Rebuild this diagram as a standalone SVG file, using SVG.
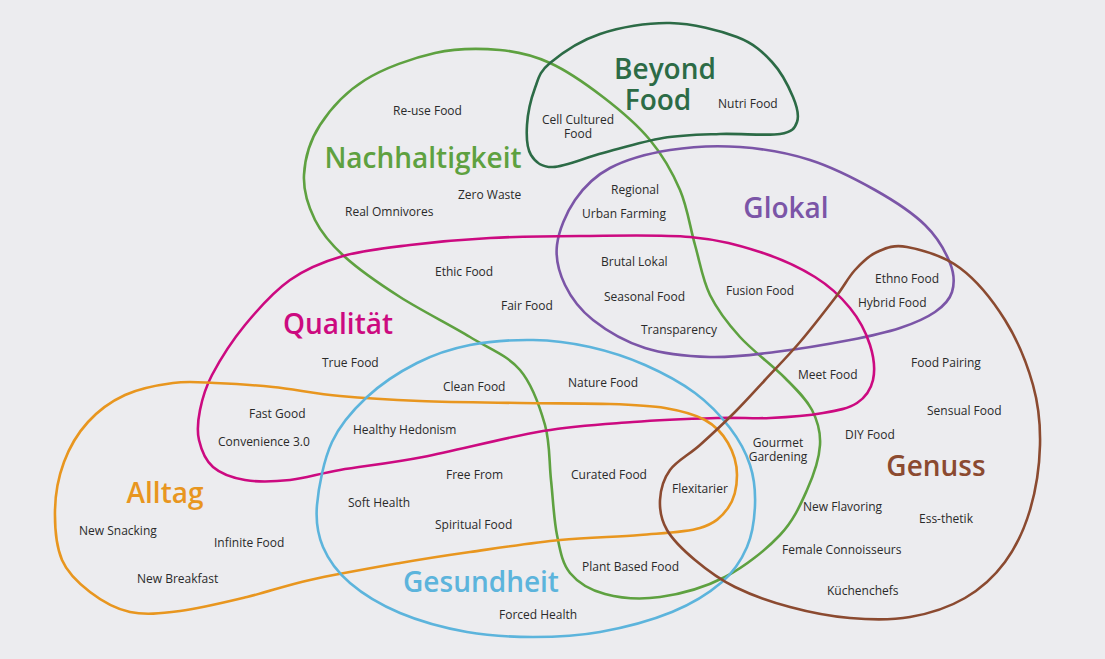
<svg xmlns="http://www.w3.org/2000/svg" width="1105" height="659" viewBox="0 0 1105 659">
<style>
.loop{fill:none;stroke-width:2.6;stroke-linejoin:round}
.title{font-family:"Open Sans","Liberation Sans",sans-serif;font-weight:600;font-size:28px}
.lbl{font-family:"Open Sans","Liberation Sans",sans-serif;font-size:12px;fill:#2a2a2a}
</style>
<rect width="1105" height="659" fill="#ececef"/>
<g id="shapes">
<g id="nachhaltigkeit">
<path class="loop" stroke="#5ea140" d="M550,63 C567.2,70.8 586.3,84.2 603,97 S637.2,124.5 650,140 S672.5,172.5 680,190 S690,227.5 695,245 S702.5,279.7 710,295 S727.5,323.2 740,337 S773,365.8 785,378 S806.2,398.8 812,410 S820.8,431.7 820,445 S813.7,475 807,490 S793.7,520.5 780,535 S745,566.7 725,577 S680,594.2 660,597 S620,598 605,594 S578,582.8 570,573 S560.2,550.5 557,535 S553,498.3 551,480 S550.2,443.3 545,425 S532.5,384.7 520,370 S490,349.2 470,337 S420.8,310.3 400,297 S359.2,269.8 345,257 S321.8,233.7 315,220 S303.2,190.8 304,175 S309.8,140.8 320,125 S345.8,92 365,80 S412.5,58 435,53 S480.8,48.3 500,50 S532.8,55.2 550,63 Z"/>
</g>
<g id="beyond-food">
<path class="loop" stroke="#2c6b46" d="M550,63 C560.8,54 580,40.7 600,34 S647.2,22.5 670,23 S720,30.5 737,37 S762.7,52 772,62 S788.8,87 793,97 S799.2,115.8 797,122 S792.8,132 780,134 S739.5,133.3 720,134 S682.5,134.8 663,138 S621.3,148.2 603,153 S565,166.7 553,167 S535.3,162 531,155 S526.3,136.2 527,125 S531.2,98.3 535,88 S539.2,72 550,63 Z"/>
</g>
<g id="glokal">
<path class="loop" stroke="#7b55a7" d="M557,245 C558.7,230.8 566.2,212.8 575,200 S594.2,176.3 610,168 S648.3,153.5 670,150 S716.7,145.3 740,147 S787.5,152.8 810,160 S855.8,179.2 875,190 S912.5,212.8 925,225 S945.5,251.8 950,263 S954.5,283.8 952,292 S943.7,306 935,312 S914.2,323.3 900,328 S870.8,336 850,340 S798.3,349.2 775,352 S731.7,357.7 710,357 S664.5,354.2 645,348 S606.3,330.5 593,320 S571,297.5 565,285 S555.3,259.2 557,245 Z"/>
</g>
<g id="qualitaet">
<path class="loop" stroke="#cc0a80" d="M290,280 C306.3,268.5 323,261.8 343,256 S385.5,248 410,245 S461.7,239.5 490,238 S546.7,236.2 580,236 S660,234.3 690,237 S739.2,245.3 760,252 S800,267.7 815,277 S840.8,296.7 850,308 S866.2,333 870,345 S875.2,370.3 873,380 S865.3,397.5 857,403 S837.5,410.5 823,413 S787.7,417.2 770,418 S739.8,417.3 717,418 S662,419.8 633,422 S578,425.2 543,431 S456.8,450.5 423,457 S362.2,466.2 340,470 S305.8,478.3 290,480 S257.8,482.2 245,480 S220.7,473.7 213,467 S201.2,449.5 199,440 S197.8,420.8 200,410 S204.5,389.2 212,375 S232,340.8 245,325 S273.7,291.5 290,280 Z"/>
</g>
<g id="alltag">
<path class="loop" stroke="#e8961f" d="M173,383 C188,381 198.3,382.3 215,383 S252.2,384.8 273,387 S315.5,393.7 340,396 S390,399.8 420,401 S488.3,402.5 520,403 S585.8,403.2 610,404 S649.2,405.3 665,408 S694.5,414.2 705,420 S722.7,433.8 728,443 S737,464.2 737,475 S734.2,499.2 728,508 S714.7,523.5 700,528 S663.3,533 640,535 S588.3,537.2 560,540 S496.7,548.2 470,552 S426.7,558.3 400,563 S335.5,574.3 310,580 S268.7,591.8 247,597 S199.5,608.5 180,611 S145,615.2 130,612 S101.3,600.7 90,592 S67.8,573.7 62,560 S54.7,526.3 55,510 S58.5,476.7 64,462 S77.8,433.2 88,422 S110.8,401.5 125,395 S158,385 173,383 Z"/>
</g>
<g id="gesundheit">
<path class="loop" stroke="#5cb4dc" d="M533,340 C553,340.3 571.3,342.8 590,347 S627.5,357.3 645,365 S680.8,382.5 695,393 S720.8,416 730,428 S745.8,452.2 750,465 S755.5,491.3 755,505 S752.5,534.2 747,547 S734.5,571.2 722,582 S692.3,603.7 672,612 S623.2,627.8 600,632 S555.2,637 533,637 S489.2,636 467,632 S419.5,621.2 400,613 S362.8,594 350,583 S328.5,560 323,547 S315.5,522.5 317,505 S323.7,460 332,442 S352.8,410.2 367,397 S399.8,371.7 417,363 S450.7,348.8 470,345 S513,339.7 533,340 Z"/>
</g>
<g id="genuss">
<path class="loop" stroke="#8b4a30" d="M907,247 C920.8,249.7 943.7,255.8 960,268 S992.8,300.5 1005,320 S1027.2,364.2 1033,385 S1040.5,424.2 1040,445 S1035.8,490.5 1030,510 S1015.8,547.3 1005,562 S980.8,588.8 965,598 S929.2,613.7 910,617 S870,619.7 850,618 S809.2,612.2 790,607 S750.8,594.8 735,587 S706.3,569.5 695,560 S672.8,540 667,530 S659.5,510 660,500 S663.3,479.2 670,470 S689.2,454.7 700,445 S724.2,422.8 735,412 S754.2,391.7 765,380 S788.3,355.7 800,342 S825.8,310 835,298 S848,277.7 855,270 S868.3,255.8 877,252 S893.2,244.3 907,247 Z"/>
</g>
</g>
<g id="titles">
<text class="title" fill="#2c6b46" text-anchor="middle"><tspan x="665" y="79">Beyond</tspan><tspan x="658" y="110">Food</tspan></text>
<text class="title" fill="#5ea140" x="423" y="168" text-anchor="middle">Nachhaltigkeit</text>
<text class="title" fill="#7b55a7" x="786" y="218" text-anchor="middle">Glokal</text>
<text class="title" fill="#cc0a80" x="338" y="334" text-anchor="middle">Qualität</text>
<text class="title" fill="#e8961f" x="165" y="503" text-anchor="middle">Alltag</text>
<text class="title" fill="#5cb4dc" x="481" y="592" text-anchor="middle">Gesundheit</text>
<text class="title" fill="#8b4a30" x="936" y="476" text-anchor="middle">Genuss</text>
</g>
<g id="labels">
<text class="lbl" x="393" y="115">Re-use Food</text>
<text class="lbl" text-anchor="middle"><tspan x="578" y="124">Cell Cultured</tspan><tspan x="578" y="138">Food</tspan></text>
<text class="lbl" x="718" y="108">Nutri Food</text>
<text class="lbl" x="458" y="199">Zero Waste</text>
<text class="lbl" x="345" y="216">Real Omnivores</text>
<text class="lbl" x="611" y="194">Regional</text>
<text class="lbl" x="582" y="218">Urban Farming</text>
<text class="lbl" x="435" y="276">Ethic Food</text>
<text class="lbl" x="601" y="266">Brutal Lokal</text>
<text class="lbl" x="501" y="310">Fair Food</text>
<text class="lbl" x="604" y="301">Seasonal Food</text>
<text class="lbl" x="726" y="295">Fusion Food</text>
<text class="lbl" x="875" y="283">Ethno Food</text>
<text class="lbl" x="858" y="307">Hybrid Food</text>
<text class="lbl" x="641" y="334">Transparency</text>
<text class="lbl" x="322" y="367">True Food</text>
<text class="lbl" x="911" y="367">Food Pairing</text>
<text class="lbl" x="443" y="391">Clean Food</text>
<text class="lbl" x="568" y="387">Nature Food</text>
<text class="lbl" x="798" y="379">Meet Food</text>
<text class="lbl" x="249" y="418">Fast Good</text>
<text class="lbl" x="927" y="415">Sensual Food</text>
<text class="lbl" x="218" y="446">Convenience 3.0</text>
<text class="lbl" x="353" y="434">Healthy Hedonism</text>
<text class="lbl" x="845" y="439">DIY Food</text>
<text class="lbl" text-anchor="middle"><tspan x="778" y="447">Gourmet</tspan><tspan x="778" y="461">Gardening</tspan></text>
<text class="lbl" x="446" y="479">Free From</text>
<text class="lbl" x="571" y="479">Curated Food</text>
<text class="lbl" x="672" y="493">Flexitarier</text>
<text class="lbl" x="348" y="507">Soft Health</text>
<text class="lbl" x="435" y="529">Spiritual Food</text>
<text class="lbl" x="803" y="511">New Flavoring</text>
<text class="lbl" x="919" y="523">Ess-thetik</text>
<text class="lbl" x="79" y="535">New Snacking</text>
<text class="lbl" x="214" y="547">Infinite Food</text>
<text class="lbl" x="782" y="554">Female Connoisseurs</text>
<text class="lbl" x="582" y="571">Plant Based Food</text>
<text class="lbl" x="137" y="583">New Breakfast</text>
<text class="lbl" x="827" y="595">Küchenchefs</text>
<text class="lbl" x="499" y="619">Forced Health</text>
</g>
</svg>
